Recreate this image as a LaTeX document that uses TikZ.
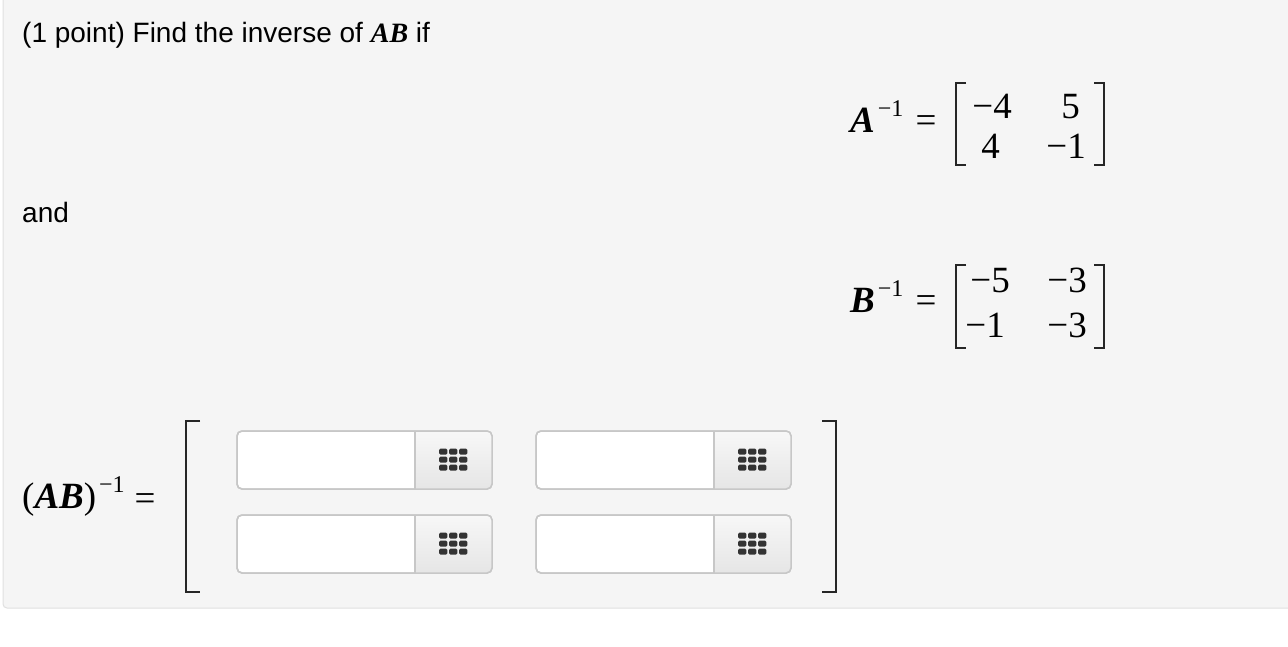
\documentclass[tikz,border=0pt]{standalone}
\usepackage{fontspec}
\setmainfont{Liberation Serif}
\setsansfont{Liberation Sans}
\newcommand\mysup[1]{\kern3pt\raisebox{0.42em}{\fontsize{24}{26}\selectfont #1}}
\begin{document}
\begin{tikzpicture}[x=1pt,y=-1pt,
  sanst/.style={font=\sffamily\fontsize{28}{32}\selectfont,anchor=base west,inner sep=0pt},
  mt/.style={font=\fontsize{37}{40}\selectfont,anchor=base,inner sep=0pt},
  brk/.style={line width=2.2pt,color=black!85},
  fieldbox/.style={draw=black!22,line width=1.5pt,fill=white,rounded corners=5pt},
  cell/.style={fill=black!80,rounded corners=1.5pt}]
\useasboundingbox (0,0) rectangle (1288,646);
\fill[white] (0,0) rectangle (1288,646);
\draw[draw=black!12,fill=black!4,rounded corners=4pt,line width=1pt] (3,-10) rectangle (1300,608);
\node[sanst] (t1) at (22,42) {(1 point) Find the inverse of \textbf{\textit{\rmfamily AB}} if};
\node[sanst] (t2) at (22,222) {and};
% A inverse
\node[mt,anchor=base west] (al) at (850,132) {\textbf{\textit{A}}\mysup{−1}};
\node[mt] (aeq) at (926,132) {=};
\draw[brk] (966,83) -- (956,83) -- (956,165) -- (966,165);
\draw[brk] (1094,83) -- (1104,83) -- (1104,165) -- (1094,165);
\node[mt,anchor=base east] (a11) at (1012,118) {−4};
\node[mt,anchor=base east] (a12) at (1080,118) {5};
\node[mt,anchor=base east] (a21) at (1000,158) {4};
\node[mt,anchor=base east] (a22) at (1086,158) {−1};
% B inverse
\node[mt,anchor=base west] (bl) at (850,312) {\textbf{\textit{B}}\mysup{−1}};
\node[mt] (beq) at (926,312) {=};
\draw[brk] (966,265) -- (956,265) -- (956,348) -- (966,348);
\draw[brk] (1094,265) -- (1104,265) -- (1104,348) -- (1094,348);
\node[mt,anchor=base east] (b11) at (1010,292) {−5};
\node[mt,anchor=base east] (b12) at (1087,292) {−3};
\node[mt,anchor=base east] (b21) at (1005,337) {−1};
\node[mt,anchor=base east] (b22) at (1087,337) {−3};
% AB inverse
\node[mt,anchor=base west] (ab) at (22,508) {(\textbf{\textit{AB}})\mysup{−1}};
\node[mt] (abeq) at (145,510) {=};
\draw[brk] (200,421) -- (186,421) -- (186,592) -- (200,592);
\draw[brk] (822,421) -- (836,421) -- (836,592) -- (822,592);
\foreach \bx/\by [count=\i] in {237/431,536/431,237/515,536/515}{
  \draw[fieldbox] (\bx,\by) rectangle ++(255,58);
  \begin{scope}
    \clip[rounded corners=5pt] (\bx,\by) rectangle ++(255,58);
    \shade[top color=black!3,bottom color=black!10] (\bx+178,\by) rectangle (\bx+255,\by+58);
  \end{scope}
  \draw[fieldbox,fill=none] (\bx,\by) rectangle ++(255,58);
  \draw[black!22,line width=1.5pt] (\bx+178,\by) -- (\bx+178,\by+58);
  \foreach \cx in {0,1,2}{\foreach \cy in {0,1,2}{
    \fill[cell] (\bx+202+\cx*10,\by+17.5+\cy*8) rectangle ++(8.3,6.2);}}
}
\end{tikzpicture}
\end{document}
